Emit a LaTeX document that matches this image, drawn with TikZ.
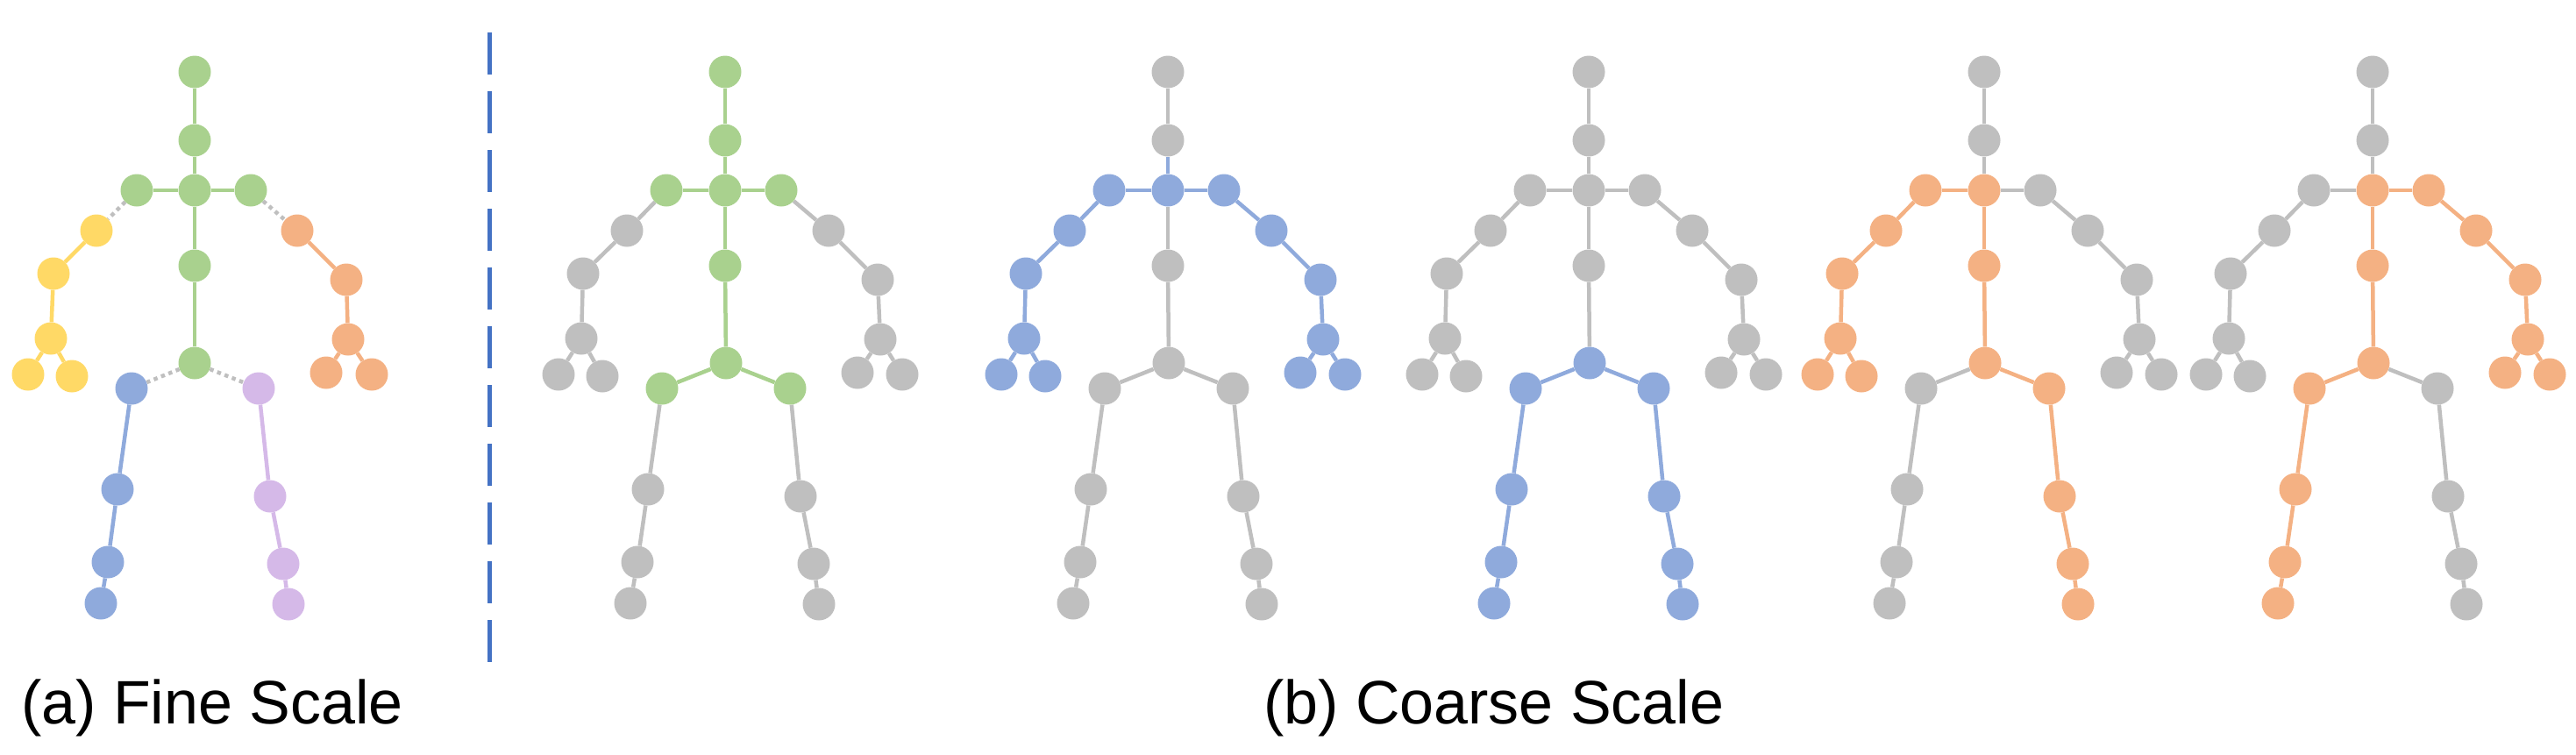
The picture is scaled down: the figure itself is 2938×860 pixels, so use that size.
\documentclass[tikz,border=0pt]{standalone}
\usepackage{fontspec}
\setmainfont{Liberation Sans}
\usetikzlibrary{backgrounds,shapes.geometric}
\definecolor{gn}{HTML}{A9D18E}
\definecolor{ye}{HTML}{FFD966}
\definecolor{og}{HTML}{F4B183}
\definecolor{bl}{HTML}{8FAADC}
\definecolor{pu}{HTML}{D5B9E8}
\definecolor{gr}{HTML}{BFBFBF}
\definecolor{dl}{HTML}{4472C4}
\tikzset{
  jt/.style={circle,minimum size=37pt,inner sep=0pt,fill=#1},
  bone/.style={line width=4.5pt,draw=#1},
  link/.style={line width=4.5pt,draw=gr,dash pattern=on 4.5pt off 4.5pt},
  lab/.style={font=\fontsize{70}{84}\selectfont,anchor=base west,inner sep=0pt},
  /sk/.cd,
  head/.initial=gr,neck/.initial=gr,st/.initial=gr,ls/.initial=gr,rs/.initial=gr,
  la/.initial=gr,ra/.initial=gr,mid/.initial=gr,hip/.initial=gr,lh/.initial=gr,
  rh/.initial=gr,ll/.initial=gr,rl/.initial=gr,ns/.initial=auto
}
\newcommand\skc[1]{\pgfkeysvalueof{/sk/#1}}
\newcommand\sedge[5]{%
  \edef\ca{\skc{#4}}\edef\cb{\skc{#5}}%
  \ifx\ca\cb \draw[bone=\ca] (#1-#2) -- (#1-#3);\else \draw[bone=gr] (#1-#2) -- (#1-#3);\fi}
\newcommand\coarse[3]{%
 \begingroup
 \pgfkeys{/sk/.cd,#3}%
 \begin{scope}[shift={(#2,0)}]
  \node[jt=\skc{head}] (#1-head) at (0,82) {};
  \node[jt=\skc{neck}] (#1-neck) at (0,160) {};
  \node[jt=\skc{st}] (#1-st) at (0,217) {};
  \node[jt=\skc{ls}] (#1-ls) at (-67,217) {};
  \node[jt=\skc{rs}] (#1-rs) at (64,217) {};
  \node[jt=\skc{mid}] (#1-mid) at (0,303) {};
  \node[jt=\skc{hip}] (#1-hip) at (1,414) {};
  \node[jt=\skc{lh}] (#1-lh) at (-72,443) {};
  \node[jt=\skc{rh}] (#1-rh) at (74,443) {};
  \node[jt=\skc{la}] (#1-la1) at (-112,263) {};
  \node[jt=\skc{la}] (#1-la2) at (-162,312) {};
  \node[jt=\skc{la}] (#1-la3) at (-164,386) {};
  \node[jt=\skc{la}] (#1-la4) at (-190,427) {};
  \node[jt=\skc{la}] (#1-la5) at (-140,429) {};
  \node[jt=\skc{ra}] (#1-ra1) at (118,263) {};
  \node[jt=\skc{ra}] (#1-ra2) at (174,319) {};
  \node[jt=\skc{ra}] (#1-ra3) at (177,387) {};
  \node[jt=\skc{ra}] (#1-ra4) at (151,425) {};
  \node[jt=\skc{ra}] (#1-ra5) at (202,427) {};
  \node[jt=\skc{ll}] (#1-ll1) at (-88,558) {};
  \node[jt=\skc{ll}] (#1-ll2) at (-100,641) {};
  \node[jt=\skc{ll}] (#1-ll3) at (-108,688) {};
  \node[jt=\skc{rl}] (#1-rl1) at (86,566) {};
  \node[jt=\skc{rl}] (#1-rl2) at (101,643) {};
  \node[jt=\skc{rl}] (#1-rl3) at (107,689) {};
 \end{scope}
 \begin{pgfonlayer}{background}
  \sedge{#1}{head}{neck}{head}{neck}
  \edef\nsv{\skc{ns}}\def\autov{auto}%
  \ifx\nsv\autov \sedge{#1}{neck}{st}{neck}{st}\else \draw[bone=\nsv] (#1-neck) -- (#1-st);\fi
  \sedge{#1}{st}{ls}{st}{ls}
  \sedge{#1}{st}{rs}{st}{rs}
  \sedge{#1}{ls}{la1}{ls}{la}
  \sedge{#1}{la1}{la2}{la}{la}
  \sedge{#1}{la2}{la3}{la}{la}
  \sedge{#1}{la3}{la4}{la}{la}
  \sedge{#1}{la3}{la5}{la}{la}
  \sedge{#1}{rs}{ra1}{rs}{ra}
  \sedge{#1}{ra1}{ra2}{ra}{ra}
  \sedge{#1}{ra2}{ra3}{ra}{ra}
  \sedge{#1}{ra3}{ra4}{ra}{ra}
  \sedge{#1}{ra3}{ra5}{ra}{ra}
  \sedge{#1}{st}{mid}{st}{mid}
  \sedge{#1}{mid}{hip}{mid}{hip}
  \sedge{#1}{hip}{lh}{hip}{lh}
  \sedge{#1}{hip}{rh}{hip}{rh}
  \sedge{#1}{lh}{ll1}{lh}{ll}
  \sedge{#1}{ll1}{ll2}{ll}{ll}
  \sedge{#1}{ll2}{ll3}{ll}{ll}
  \sedge{#1}{rh}{rl1}{rh}{rl}
  \sedge{#1}{rl1}{rl2}{rl}{rl}
  \sedge{#1}{rl2}{rl3}{rl}{rl}
 \end{pgfonlayer}
 \endgroup}
\begin{document}
\begin{tikzpicture}[x=1pt,y=-1pt]
\useasboundingbox (0,0) rectangle (2938,860);
% fine scale
\node[jt=gn] (f-head) at (222,82) {};
\node[jt=gn] (f-neck) at (222,160) {};
\node[jt=gn] (f-st) at (222,217) {};
\node[jt=gn] (f-ls) at (156,217) {};
\node[jt=gn] (f-rs) at (286,217) {};
\node[jt=gn] (f-mid) at (222,303) {};
\node[jt=gn] (f-hip) at (222,414) {};
\node[jt=ye] (f-y1) at (110,263) {};
\node[jt=ye] (f-y2) at (61,312) {};
\node[jt=ye] (f-y3) at (58,386) {};
\node[jt=ye] (f-y4) at (32,427) {};
\node[jt=ye] (f-y5) at (82,429) {};
\node[jt=og] (f-o1) at (339,263) {};
\node[jt=og] (f-o2) at (395,319) {};
\node[jt=og] (f-o3) at (397,387) {};
\node[jt=og] (f-o4) at (372,425) {};
\node[jt=og] (f-o5) at (424,427) {};
\node[jt=bl] (f-b1) at (150,443) {};
\node[jt=bl] (f-b2) at (134,558) {};
\node[jt=bl] (f-b3) at (123,641) {};
\node[jt=bl] (f-b4) at (115,688) {};
\node[jt=pu] (f-p1) at (295,443) {};
\node[jt=pu] (f-p2) at (308,566) {};
\node[jt=pu] (f-p3) at (323,643) {};
\node[jt=pu] (f-p4) at (329,689) {};
\begin{pgfonlayer}{background}
\draw[bone=gn] (f-head) -- (f-neck) -- (f-st) -- (f-mid) -- (f-hip);
\draw[bone=gn] (f-ls) -- (f-st) -- (f-rs);
\draw[link] (f-ls) -- (f-y1);
\draw[link] (f-rs) -- (f-o1);
\draw[link] (f-hip) -- (f-b1);
\draw[link] (f-hip) -- (f-p1);
\draw[bone=ye] (f-y1) -- (f-y2) -- (f-y3) -- (f-y4);
\draw[bone=ye] (f-y3) -- (f-y5);
\draw[bone=og] (f-o1) -- (f-o2) -- (f-o3) -- (f-o4);
\draw[bone=og] (f-o3) -- (f-o5);
\draw[bone=bl] (f-b1) -- (f-b2) -- (f-b3) -- (f-b4);
\draw[bone=pu] (f-p1) -- (f-p2) -- (f-p3) -- (f-p4);
\end{pgfonlayer}
% divider
\coordinate (dtop) at (558,37);
\coordinate (dbot) at (558,755);
\draw[dl,line width=5pt,dash pattern=on 48pt off 19pt] (dtop) -- (dbot);
% coarse scale
\coarse{c1}{827}{head=gn,neck=gn,st=gn,ls=gn,rs=gn,mid=gn,hip=gn,lh=gn,rh=gn}
\coarse{c2}{1332}{st=bl,ls=bl,rs=bl,la=bl,ra=bl,ns=bl}
\coarse{c3}{1812}{hip=bl,lh=bl,rh=bl,ll=bl,rl=bl}
\coarse{c4}{2263}{st=og,ls=og,la=og,mid=og,hip=og,rh=og,rl=og}
\coarse{c5}{2706}{st=og,rs=og,ra=og,mid=og,hip=og,lh=og,ll=og}
% labels
\node[lab] (la) at (24,825) {(a) Fine Scale};
\node[lab] (lb) at (1441,825) {(b) Coarse Scale};
\end{tikzpicture}
\end{document}
